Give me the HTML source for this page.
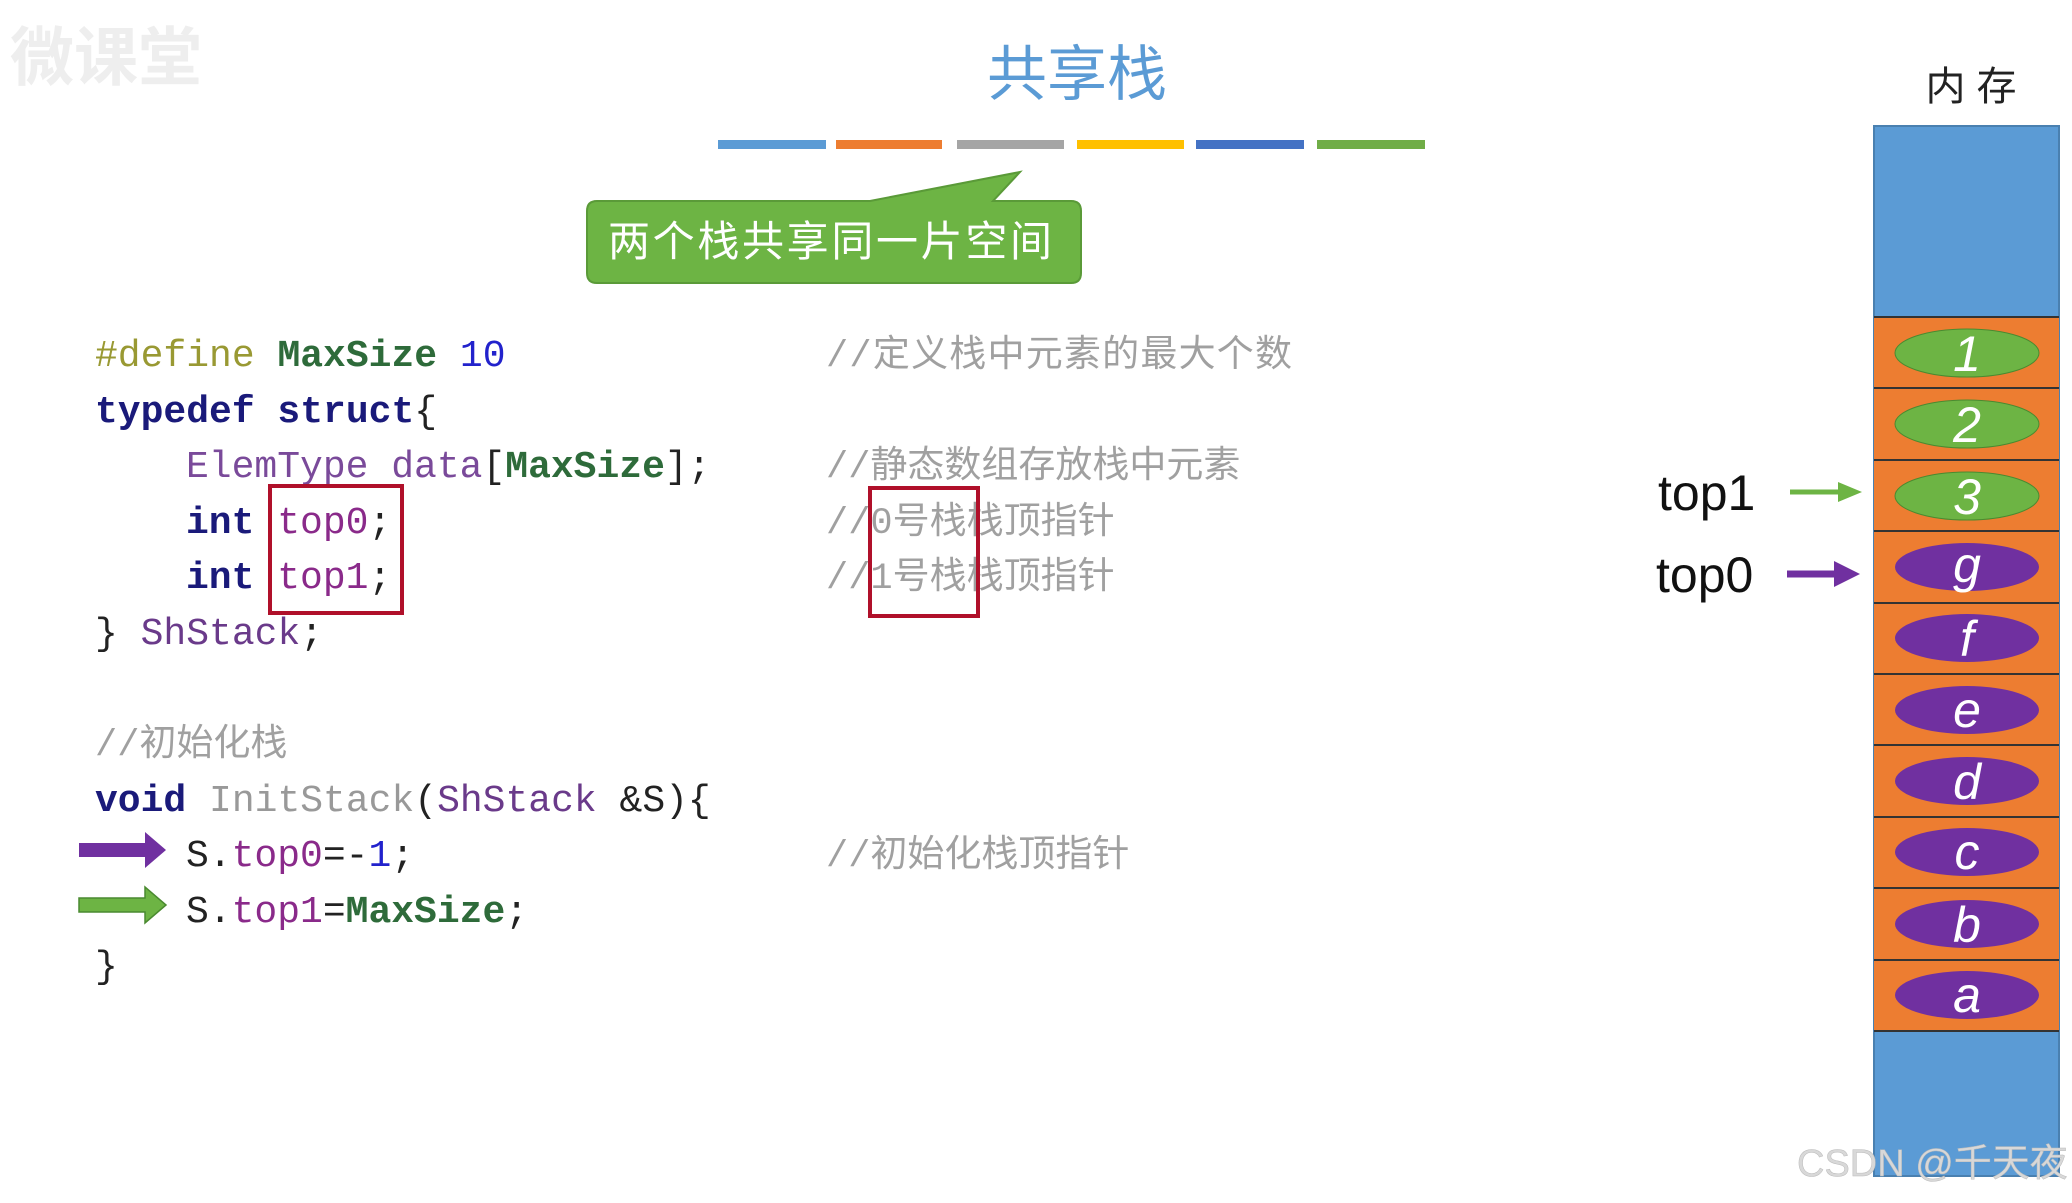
<!DOCTYPE html>
<html><head><meta charset="utf-8"><style>
html,body{margin:0;padding:0;background:#fff;}
svg text{font-family:"Liberation Sans","Noto Sans CJK SC",sans-serif;}
.m{font-family:"Liberation Mono","Noto Sans CJK SC",monospace !important;font-size:38px;}
.c{font-family:"Liberation Mono","Noto Sans CJK SC",monospace !important;font-size:37px;fill:#a0a0a0;}
</style></head><body>
<svg width="2072" height="1198" viewBox="0 0 2072 1198" xmlns="http://www.w3.org/2000/svg">
<text x="10" y="80" font-size="64" fill="#eeeeee" font-weight="bold">微课堂</text>
<text x="1077" y="95" text-anchor="middle" font-size="60" fill="#5b9bd5">共享栈</text>
<rect x="718" y="140" width="108" height="9" fill="#5b9bd5"/>
<rect x="836" y="140" width="106" height="9" fill="#ed7d31"/>
<rect x="957" y="140" width="107" height="9" fill="#a5a5a5"/>
<rect x="1077" y="140" width="107" height="9" fill="#ffc000"/>
<rect x="1196" y="140" width="108" height="9" fill="#4472c4"/>
<rect x="1317" y="140" width="108" height="9" fill="#70ad47"/>
<path d="M597,201 H870 L1020,172 L993,201 H1071 Q1081,201 1081,211 V273 Q1081,283 1071,283 H597 Q587,283 587,273 V211 Q587,201 597,201 Z" fill="#6db444" stroke="#5a9a38" stroke-width="2"/>
<text x="608" y="256" font-size="42" fill="#fff" textLength="444" lengthAdjust="spacing">两个栈共享同一片空间</text>
<g class="m">
<text x="95" y="366" class="m"><tspan fill="#999933">#define</tspan> <tspan fill="#2e6b3a" font-weight="bold">MaxSize</tspan> <tspan fill="#2222cc">10</tspan></text>
<text x="95" y="422" class="m" fill="#1a1a7a" font-weight="bold">typedef struct<tspan font-weight="normal" fill="#222">{</tspan></text>
<text x="186" y="477" class="m"><tspan fill="#7a4a9a">ElemType data</tspan><tspan fill="#222">[</tspan><tspan fill="#2e6b3a" font-weight="bold">MaxSize</tspan><tspan fill="#222">];</tspan></text>
<text x="186" y="533" class="m"><tspan fill="#1a1a7a" font-weight="bold">int</tspan> <tspan fill="#8a2a8a">top0</tspan><tspan fill="#222">;</tspan></text>
<text x="186" y="588" class="m"><tspan fill="#1a1a7a" font-weight="bold">int</tspan> <tspan fill="#8a2a8a">top1</tspan><tspan fill="#222">;</tspan></text>
<text x="95" y="644" class="m"><tspan fill="#222">}</tspan> <tspan fill="#6a3a8a">ShStack</tspan><tspan fill="#222">;</tspan></text>
<text x="95" y="755" class="c">//初始化栈</text>
<text x="95" y="811" class="m"><tspan fill="#1a1a7a" font-weight="bold">void</tspan> <tspan fill="#999">InitStack</tspan><tspan fill="#222">(</tspan><tspan fill="#6a3a8a">ShStack</tspan><tspan fill="#222"> &amp;S){</tspan></text>
<text x="186" y="866" class="m"><tspan fill="#222">S.</tspan><tspan fill="#8a2a8a">top0</tspan><tspan fill="#222">=-</tspan><tspan fill="#2222cc">1</tspan><tspan fill="#222">;</tspan></text>
<text x="186" y="922" class="m"><tspan fill="#222">S.</tspan><tspan fill="#8a2a8a">top1</tspan><tspan fill="#222">=</tspan><tspan fill="#2e6b3a" font-weight="bold">MaxSize</tspan><tspan fill="#222">;</tspan></text>
<text x="95" y="977" class="m" fill="#222">}</text>
</g>
<text x="826" y="366" class="c" textLength="466" lengthAdjust="spacing">//定义栈中元素的最大个数</text>
<text x="826" y="477" class="c">//静态数组存放栈中元素</text>
<text x="826" y="533" class="c">//0号栈栈顶指针</text>
<text x="826" y="588" class="c">//1号栈栈顶指针</text>
<text x="826" y="866" class="c">//初始化栈顶指针</text>
<rect x="270" y="486" width="132" height="127" fill="none" stroke="#b0102a" stroke-width="4"/>
<rect x="870" y="488" width="108" height="128" fill="none" stroke="#b0102a" stroke-width="4"/>
<path d="M79,843 H145 V832 L166,850 L145,868 V857 H79 Z" fill="#7030a0"/>
<path d="M79,898 H145 V887 L166,905 L145,923 V912 H79 Z" fill="#6db444" stroke="#4a8a30" stroke-width="1.5"/>
<text x="1971" y="100" text-anchor="middle" font-size="40" fill="#222">内 存</text>
<rect x="1874" y="126" width="185" height="1050" fill="#5b9bd5" stroke="#4a80b0" stroke-width="2"/>
<rect x="1874" y="317" width="185" height="714" fill="#ed7d31"/>
<g stroke="#333" stroke-width="2">
<line x1="1874" y1="317" x2="2059" y2="317"/><line x1="1874" y1="388" x2="2059" y2="388"/><line x1="1874" y1="460" x2="2059" y2="460"/><line x1="1874" y1="531" x2="2059" y2="531"/><line x1="1874" y1="603" x2="2059" y2="603"/><line x1="1874" y1="674" x2="2059" y2="674"/><line x1="1874" y1="745" x2="2059" y2="745"/><line x1="1874" y1="817" x2="2059" y2="817"/><line x1="1874" y1="888" x2="2059" y2="888"/><line x1="1874" y1="960" x2="2059" y2="960"/><line x1="1874" y1="1031" x2="2059" y2="1031"/>
</g>
<g font-size="50" fill="#fff" font-style="italic" text-anchor="middle">
<ellipse cx="1967" cy="353" rx="72" ry="24" fill="#6db444" stroke="#4a8a30"/><text x="1967" y="371">1</text>
<ellipse cx="1967" cy="424" rx="72" ry="24" fill="#6db444" stroke="#4a8a30"/><text x="1967" y="442">2</text>
<ellipse cx="1967" cy="496" rx="72" ry="24" fill="#6db444" stroke="#4a8a30"/><text x="1967" y="514">3</text>
<ellipse cx="1967" cy="567" rx="72" ry="24" fill="#7030a0"/><text x="1967" y="582">g</text>
<ellipse cx="1967" cy="638" rx="72" ry="24" fill="#7030a0"/><text x="1967" y="656">f</text>
<ellipse cx="1967" cy="710" rx="72" ry="24" fill="#7030a0"/><text x="1967" y="727">e</text>
<ellipse cx="1967" cy="781" rx="72" ry="24" fill="#7030a0"/><text x="1967" y="799">d</text>
<ellipse cx="1967" cy="852" rx="72" ry="24" fill="#7030a0"/><text x="1967" y="869">c</text>
<ellipse cx="1967" cy="924" rx="72" ry="24" fill="#7030a0"/><text x="1967" y="942">b</text>
<ellipse cx="1967" cy="995" rx="72" ry="24" fill="#7030a0"/><text x="1967" y="1012">a</text>
</g>
<text x="1658" y="510" font-size="50" fill="#111">top1</text>
<line x1="1790" y1="492" x2="1842" y2="492" stroke="#6db444" stroke-width="5"/>
<path d="M1838,482 L1862,492 L1838,502 Z" fill="#6db444"/>
<text x="1656" y="592" font-size="50" fill="#111">top0</text>
<line x1="1787" y1="574" x2="1840" y2="574" stroke="#7030a0" stroke-width="7"/>
<path d="M1834,561 L1860,574 L1834,587 Z" fill="#7030a0"/>
<text x="1797" y="1176" font-size="38" fill="#d8d8d8" stroke="#bbb" stroke-width="0.5">CSDN @千天夜</text>
</svg>
</body></html>
